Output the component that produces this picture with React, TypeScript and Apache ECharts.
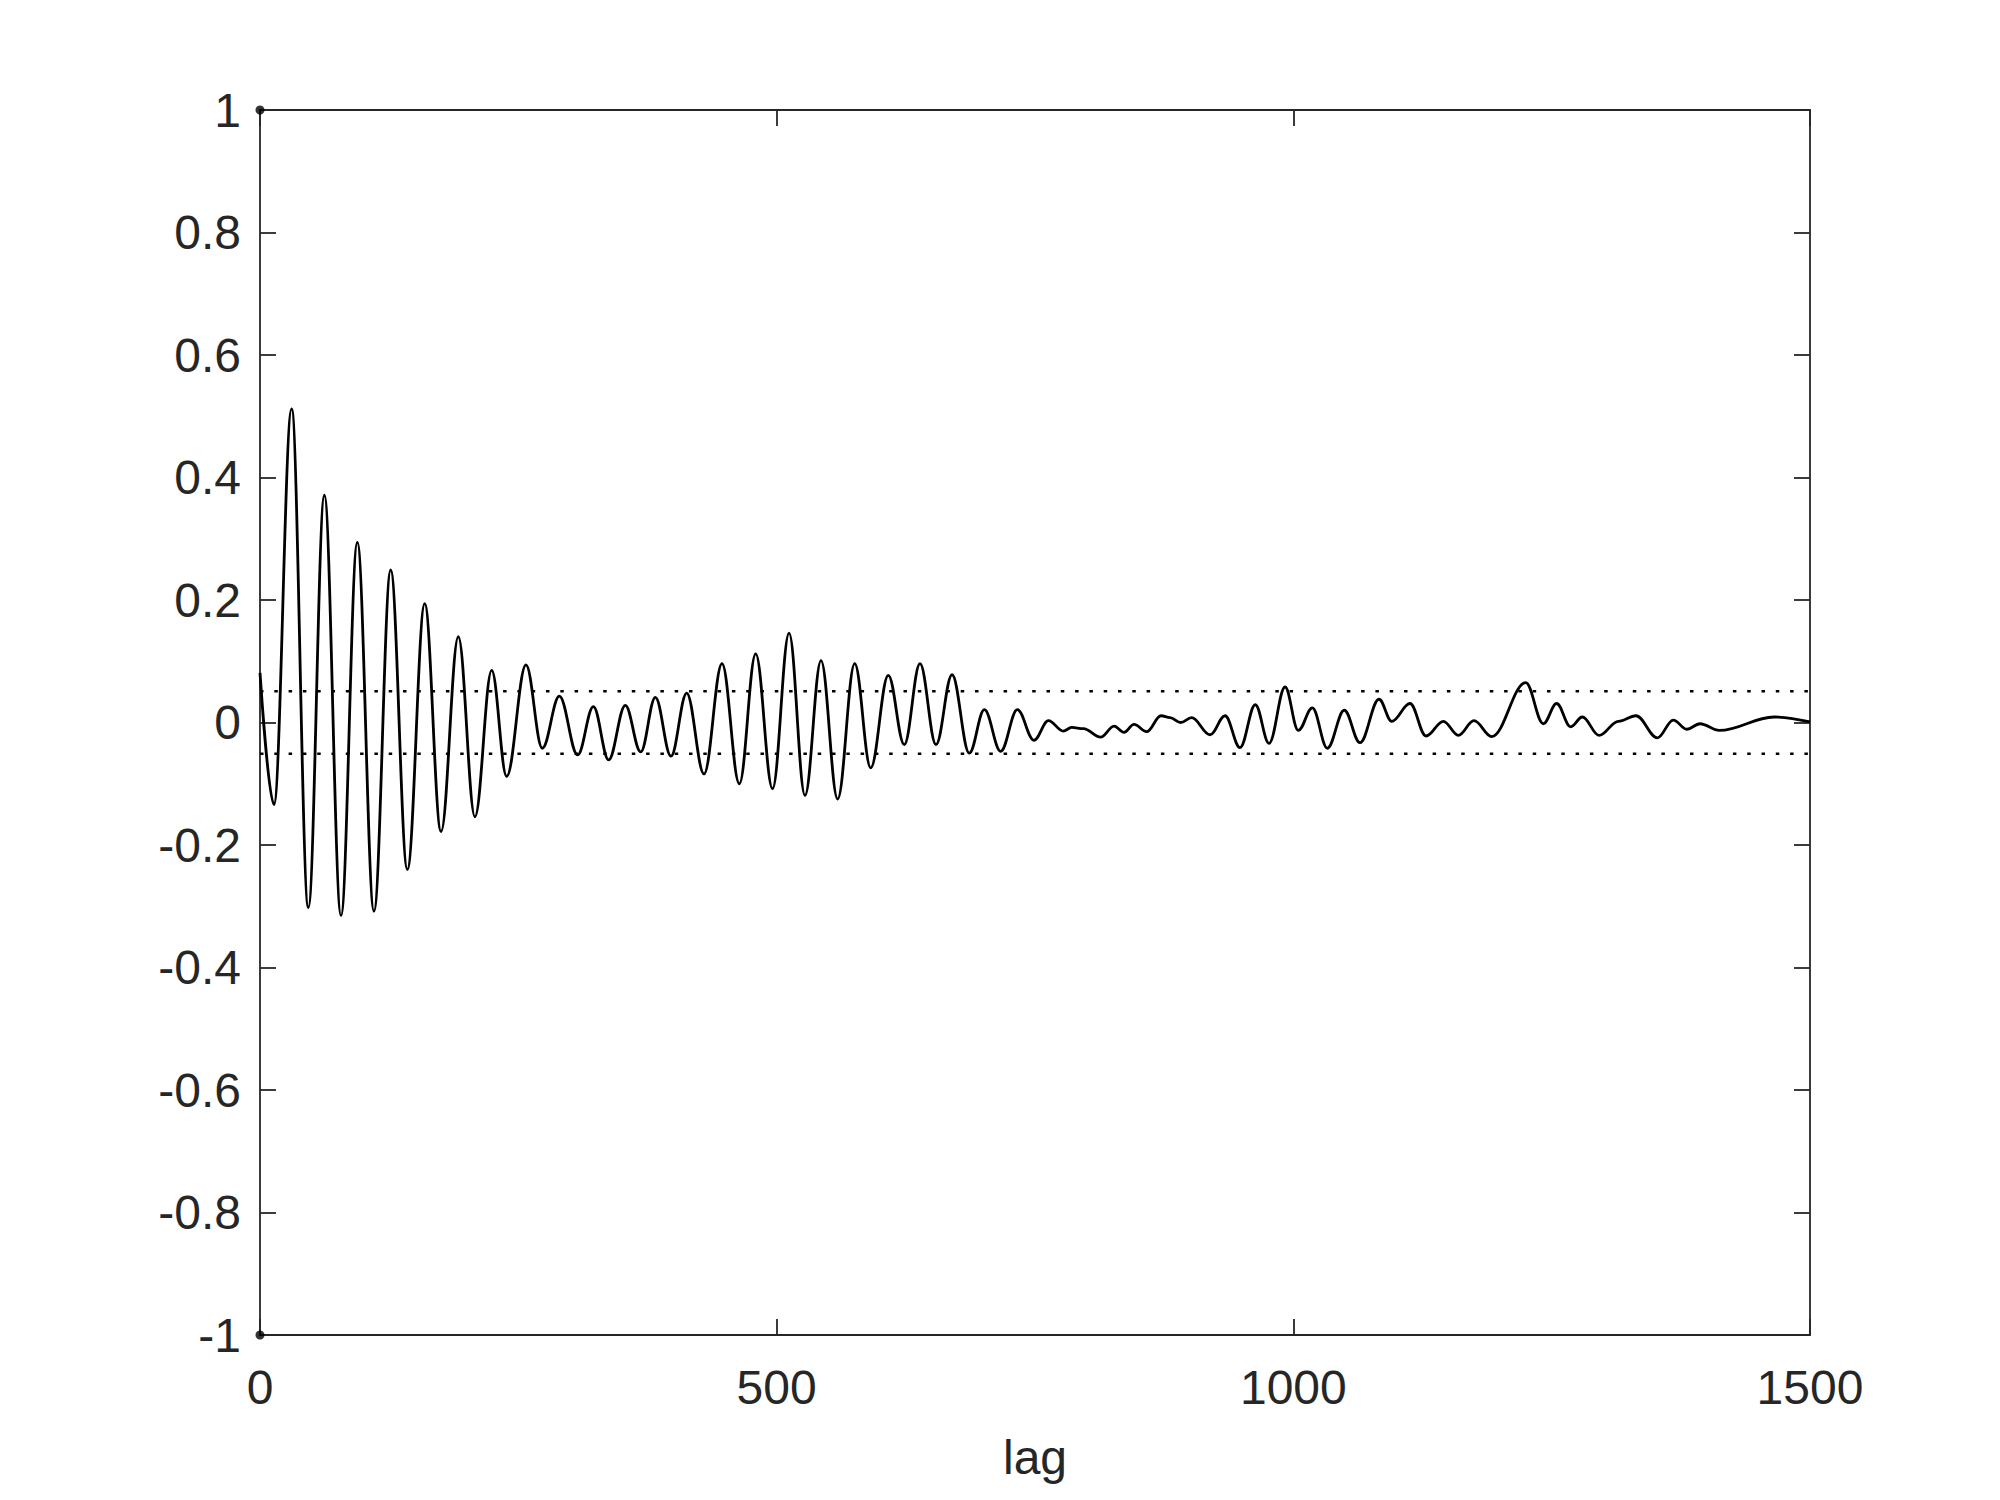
import React, { useEffect, useRef } from "react";
import * as echarts from "echarts";

// Autocorrelation curve: lag positions of turning points and their values
const acfLags = [
  0, 13.5, 30.6, 46.8, 62.3, 78.4, 94.2, 110.3, 126.5, 142.6, 159.4, 175.2, 191.9, 208, 224.2, 238.7,
  257.4, 273.2, 289.7, 307.4, 322.6, 337.4, 353.5, 368.4, 382.6, 397.7, 412.9, 429.7, 447.1, 463.9,
  479.7, 496, 512, 527.4, 542.9, 559, 575.5, 591, 608, 623.5, 638.7, 654.2, 669.7, 686.4, 701, 716.8,
  732.9, 749, 763, 777.4, 785.5, 796.8, 813.6, 826.5, 836.1, 845.8, 858.1, 871.9, 880.7, 891, 901.6,
  919.4, 933.9, 948.4, 963.2, 976.5, 992, 1004.8, 1018.4, 1032.9, 1049.3, 1064.5, 1082.9, 1095.2,
  1112.9, 1128.4, 1145.2, 1159.7, 1174.8, 1192, 1224.9, 1241.9, 1254.8, 1268.4, 1279.7, 1295.8,
  1314.5, 1331.6, 1352.3, 1367.7, 1380.7, 1393.5, 1412.3, 1465.2, 1500,
];
const acfValues = [
  0.081, -0.134, 0.512, -0.302, 0.371, -0.315, 0.294, -0.308, 0.249, -0.24, 0.194, -0.178, 0.14, -0.154,
  0.085, -0.088, 0.094, -0.042, 0.043, -0.053, 0.026, -0.061, 0.028, -0.048, 0.041, -0.055, 0.048,
  -0.084, 0.096, -0.1, 0.112, -0.108, 0.146, -0.119, 0.101, -0.125, 0.096, -0.074, 0.077, -0.036,
  0.096, -0.036, 0.078, -0.05, 0.021, -0.047, 0.021, -0.029, 0.003, -0.014, -0.008, -0.01, -0.024,
  -0.006, -0.016, -0.003, -0.015, 0.011, 0.008, 0.0, 0.008, -0.02, 0.011, -0.041, 0.029, -0.034,
  0.058, -0.013, 0.024, -0.042, 0.02, -0.033, 0.038, 0.002, 0.031, -0.022, 0.002, -0.021, 0.003,
  -0.023, 0.065, -0.002, 0.031, -0.007, 0.009, -0.021, 0.002, 0.011, -0.025, 0.004, -0.011, -0.002,
  -0.013, 0.009, 0.001,
];

// Confidence bounds (dotted lines)
const confBound = 0.051;
const confLagRange = [0, 1500];

// Endpoint markers at lag 0
const markerPoints = [
  [0, 1],
  [0, -1],
];

// Axis ticks
const xTicks = [0, 500, 1000, 1500];
const yMin = -1;
const yMax = 1;
const yStep = 0.2;
const xName = "lag";

const AXIS_COLOR = "#262626";
const FONT = "'Liberation Sans', Arial, Helvetica, sans-serif";

export default function App() {
  const ref = useRef<HTMLDivElement>(null);

  useEffect(() => {
    if (!ref.current) return;
    const chart = echarts.init(ref.current, undefined, { renderer: "svg" });

    const axisLine = { show: true, onZero: false, lineStyle: { color: AXIS_COLOR, width: 1.8 } };
    const axisTick = { show: true, inside: true, length: 16, lineStyle: { color: AXIS_COLOR, width: 1.8 } };
    const labelStyle = { fontSize: 48, fontFamily: FONT, color: AXIS_COLOR };

    const xBase = {
      type: "value" as const,
      min: xTicks[0],
      max: xTicks[xTicks.length - 1],
      interval: xTicks[1] - xTicks[0],
      splitLine: { show: false },
      axisLine,
      axisTick,
    };
    const yBase = {
      type: "value" as const,
      min: yMin,
      max: yMax,
      interval: yStep,
      splitLine: { show: false },
      axisLine,
      axisTick,
    };

    const dash = [3.5, 10.8];

    chart.setOption({
      animation: false,
      backgroundColor: "#ffffff",
      grid: { left: 260, right: 190, top: 110, bottom: 165, containLabel: false },
      xAxis: [
        {
          ...xBase,
          position: "bottom",
          axisLabel: { ...labelStyle, margin: 28, formatter: (v: number) => String(v) },
          name: xName,
          nameLocation: "middle",
          nameGap: 98,
          nameTextStyle: { ...labelStyle },
        },
        { ...xBase, position: "top", axisLabel: { show: false } },
      ],
      yAxis: [
        {
          ...yBase,
          position: "left",
          axisLabel: {
            ...labelStyle,
            margin: 19,
            formatter: (v: number) => String(Math.round(v * 10) / 10),
          },
        },
        { ...yBase, position: "right", axisLabel: { show: false } },
      ],
      series: [
        {
          type: "line",
          xAxisIndex: 0,
          yAxisIndex: 0,
          data: confLagRange.map((l) => [l, confBound]),
          showSymbol: false,
          lineStyle: { color: "#000000", width: 2.6, type: dash },
          silent: true,
        },
        {
          type: "line",
          xAxisIndex: 0,
          yAxisIndex: 0,
          data: confLagRange.map((l) => [l, -confBound]),
          showSymbol: false,
          lineStyle: { color: "#000000", width: 2.6, type: dash },
          silent: true,
        },
        {
          type: "line",
          xAxisIndex: 0,
          yAxisIndex: 0,
          data: acfLags.map((l, i) => [l, acfValues[i]]),
          showSymbol: false,
          smooth: 0.37,
          smoothMonotone: "x",
          lineStyle: { color: "#000000", width: 2.8 },
          silent: true,
        },
        {
          type: "scatter",
          xAxisIndex: 0,
          yAxisIndex: 0,
          data: markerPoints,
          symbol: "circle",
          symbolSize: 9,
          itemStyle: { color: "#000000" },
          clip: false,
          silent: true,
          z: 5,
        },
      ],
    });

    return () => chart.dispose();
  }, []);

  return (
    <div
      ref={ref}
      style={{ position: "absolute", left: 0, top: 0, width: 2000, height: 1500, background: "#fff" }}
    />
  );
}
